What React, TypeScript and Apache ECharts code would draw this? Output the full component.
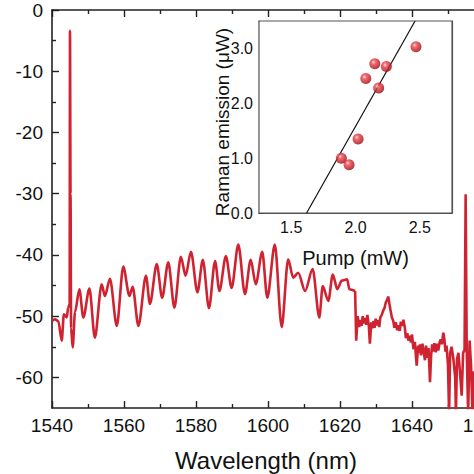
import React, { useEffect, useRef } from "react";
import * as echarts from "echarts";

// Main spectrum: wavelength (nm) and power (dB)
const wavelength = [
  1540.0, 1540.8, 1541.75, 1542.7, 1543.3, 1544.1, 1544.5, 1544.9, 1545.0, 1545.15, 1545.3, 1545.75,
  1546.4, 1547.6, 1548.7, 1550.4, 1551.9, 1553.8, 1554.7, 1556.1, 1558.0, 1559.8, 1561.5, 1562.4,
  1564.0, 1566.1, 1567.2, 1569.1, 1570.6, 1572.3, 1574.0, 1575.8, 1577.1, 1578.6, 1580.4, 1581.9,
  1583.6, 1585.3, 1586.5, 1588.3, 1589.9, 1591.75, 1593.6, 1595.2, 1596.6, 1598.4, 1599.8, 1601.9,
  1603.8, 1605.6, 1607.0, 1608.4, 1610.3, 1612.4, 1614.25, 1615.2, 1616.75, 1618.0, 1619.25, 1620.5,
  1622.0, 1622.6, 1624.2,
  1624.5, 1624.9, 1625.3, 1625.6, 1626.0, 1626.3, 1626.7, 1627.0, 1627.3, 1627.6, 1628.0, 1628.3,
  1628.7, 1629.0, 1629.3, 1629.6, 1629.9, 1630.2, 1630.6, 1630.9, 1631.2, 1631.6, 1632.0, 1632.4,
  1632.7, 1633.1, 1633.4, 1633.7, 1634.0, 1634.4, 1634.8, 1635.1, 1635.5, 1635.9, 1636.2, 1636.6,
  1636.9, 1637.3, 1637.6, 1638.0, 1638.3, 1638.7, 1639.0, 1639.4, 1639.7, 1640.0, 1640.4, 1640.8,
  1641.0, 1641.3, 1641.7, 1642.0, 1642.2, 1642.5, 1642.9, 1643.2, 1643.6, 1643.9, 1644.3, 1644.6,
  1645.0, 1645.3, 1645.6, 1645.9, 1646.2, 1646.6, 1647.0, 1647.3, 1647.7, 1648.0, 1648.3, 1648.7,
  1649.0, 1649.3, 1649.6, 1650.0, 1650.3, 1650.6, 1651.0, 1651.5, 1652.0, 1652.2, 1652.5, 1652.9,
  1653.3, 1653.8, 1654.2, 1654.6, 1654.9, 1655.2, 1655.6, 1656.0, 1656.4, 1656.8, 1657.2, 1657.6,
  1658.0, 1658.5, 1659.0, 1659.5, 1660.0,
];
const power = [
  -50.8, -50.5, -50.8, -54.0, -49.7, -50.2, -48.6, -48.0, -3.4, -30.0, -52.0, -55.1,
  -49.3, -45.6, -50.2, -45.5, -53.5, -44.8, -46.7, -43.9, -51.6, -41.9, -46.7, -45.2,
  -51.6, -43.4, -48.0, -41.5, -47.0, -41.2, -48.6, -40.3, -43.4, -39.5, -46.1, -40.8,
  -48.7, -41.0, -45.9, -40.2, -45.4, -38.3, -46.4, -40.8, -44.8, -39.5, -47.0, -38.3,
  -51.8, -40.7, -43.7, -42.9, -45.9, -42.3, -50.2, -45.1, -47.5, -43.2, -45.6, -44.2,
  -44.0, -45.6, -45.9,
  -54.0, -50.0, -51.8, -50.6, -51.6, -50.0, -51.2, -50.3, -51.4, -49.8, -51.5, -54.5,
  -51.0, -52.0, -50.8, -51.9, -50.4, -51.5, -50.6, -51.8, -50.2, -49.8, -49.1, -48.6,
  -47.8, -47.3, -46.8, -47.9, -48.9, -50.2, -50.8, -51.9, -51.0, -52.3, -51.5, -52.4,
  -50.9, -51.6, -50.6, -51.8, -53.6, -52.8, -54.0, -53.2, -54.3, -53.0, -55.4, -54.2,
  -55.8, -58.1, -54.8, -56.0, -54.6, -56.4, -54.5, -55.6, -57.2, -54.8, -56.8, -55.2,
  -60.8, -56.5, -54.6, -55.8, -54.4, -55.9, -54.5, -55.6, -54.2, -53.8, -54.6, -52.7,
  -53.8, -55.8, -54.8, -58.0, -66.0, -56.0, -55.0, -57.0, -60.0, -66.0, -57.0, -56.0,
  -59.0, -63.0, -56.0, -55.5, -30.1, -55.5, -66.0, -54.0, -58.0, -66.0, -59.0, -63.0,
  -57.0, -66.0, -60.0, -62.0, -60.0,
];
// Wavelength where the smooth fringes end and the noisy tail begins
const noiseStart = 1624.2;

// Main axis ticks
const xTicksMain = [1540, 1560, 1580, 1600, 1620, 1640, 1660];
const yTicksMain = [0, -10, -20, -30, -40, -50, -60];
const yMinorMain = [-5, -15, -25, -35, -45, -55];

// Inset: pump power (mW) vs Raman emission (µW)
const pump = [1.89, 1.95, 2.02, 2.08, 2.15, 2.18, 2.24, 2.47];
const raman = [1.0, 0.88, 1.35, 2.45, 2.72, 2.28, 2.67, 3.03];
const fitPump = [1.62, 2.463];
const fitRaman = [0.0, 3.5];
const xTicksInset = [1.5, 2.0, 2.5];
const xMinorInset = [1.75, 2.25];
const yTicksInset = [0, 1, 2, 3];

const RED = "#cf2331";
const AXIS = "#222";
const FONT = "Liberation Sans, Arial, sans-serif";

export default function App() {
  const ref = useRef<HTMLDivElement>(null);
  useEffect(() => {
    if (!ref.current) return;
    const chart = echarts.init(ref.current, undefined, { renderer: "svg" });
    const spectrum = wavelength.map((w, i) => [w, power[i]]);
    const fringes = spectrum.filter((d) => d[0] <= noiseStart);
    const tail = spectrum.filter((d) => d[0] >= noiseStart);
    const points = pump.map((p, i) => [p, raman[i]]);
    const fit = fitPump.map((p, i) => [p, fitRaman[i]]);

    const mainX = (pos: string, labels: boolean) => ({
      type: "value",
      gridIndex: 0,
      position: pos,
      min: 1540,
      max: 1660,
      interval: 20,
      axisLine: { show: true, onZero: false, lineStyle: { color: AXIS, width: 1.6 } },
      axisTick: { show: true, inside: true, length: 7, lineStyle: { color: AXIS, width: 1.4 } },
      minorTick: { show: true, splitNumber: 2, length: 4, lineStyle: { color: AXIS, width: 1.4 } },
      axisLabel: {
        show: labels,
        fontSize: 19,
        color: "#111",
        fontFamily: FONT,
        margin: 8,
        customValues: xTicksMain,
        formatter: (v: number) => String(v),
      },
      splitLine: { show: false },
      minorSplitLine: { show: false },
    });
    const mainY = (pos: string, labels: boolean, ticks: number[], len: number, line: boolean) => ({
      type: "value",
      gridIndex: 0,
      position: pos,
      min: -65,
      max: 0,
      axisLine: { show: line, onZero: false, lineStyle: { color: AXIS, width: 1.6 } },
      axisTick: { show: true, inside: true, length: len, customValues: ticks, lineStyle: { color: AXIS, width: 1.4 } },
      axisLabel: {
        show: labels,
        fontSize: 19,
        color: "#111",
        fontFamily: FONT,
        margin: 9,
        customValues: yTicksMain,
        formatter: (v: number) => String(v),
      },
      splitLine: { show: false },
    });
    const insetX = (pos: string, labels: boolean, ticks: number[], len: number, name: string) => ({
      type: "value",
      gridIndex: 1,
      position: pos,
      min: 1.25,
      max: 2.75,
      name,
      nameLocation: "middle",
      nameGap: 35,
      nameTextStyle: { fontSize: 20, color: "#111", fontFamily: FONT },
      axisLine: { show: true, onZero: false, lineStyle: { color: "#555", width: 1.2 } },
      axisTick: { show: true, inside: true, length: len, customValues: ticks, lineStyle: { color: "#444", width: 1 } },
      axisLabel: {
        show: labels,
        fontSize: 16,
        color: "#111",
        fontFamily: FONT,
        margin: 6,
        customValues: xTicksInset,
        formatter: (v: number) => v.toFixed(1),
      },
      splitLine: { show: false },
    });
    const insetY = (pos: string, labels: boolean) => ({
      type: "value",
      gridIndex: 1,
      position: pos,
      min: 0,
      max: 3.5,
      interval: 1,
      axisLine: { show: true, onZero: false, lineStyle: { color: "#555", width: 1.2 } },
      axisTick: { show: true, inside: true, length: 5, lineStyle: { color: "#444", width: 1 } },
      minorTick: { show: true, splitNumber: 2, length: 3, lineStyle: { color: "#444", width: 1 } },
      axisLabel: {
        show: labels,
        fontSize: 16,
        color: "#111",
        fontFamily: FONT,
        margin: 6,
        customValues: yTicksInset,
        formatter: (v: number) => v.toFixed(1),
      },
      splitLine: { show: false },
      minorSplitLine: { show: false },
    });

    chart.setOption({
      animation: false,
      backgroundColor: "#fff",
      grid: [
        { left: 52, top: 10, width: 432, height: 398 },
        { left: 259, top: 21, width: 193, height: 192, show: true, backgroundColor: "#fff", borderColor: "#555", borderWidth: 1.2, z: 5 },
      ],
      xAxis: [
        mainX("bottom", true),
        mainX("top", false),
        insetX("bottom", true, xTicksInset, 5, "Pump (mW)"),
        insetX("bottom", false, xMinorInset, 3, ""),
        insetX("top", false, xTicksInset, 5, ""),
      ],
      yAxis: [
        mainY("left", true, yTicksMain, 7, true),
        mainY("left", false, yMinorMain, 4, false),
        mainY("right", false, yTicksMain, 7, true),
        insetY("left", true),
        insetY("right", false),
      ],
      graphic: [
        {
          type: "text",
          x: 266,
          y: 460,
          style: {
            text: "Wavelength (nm)",
            fontSize: 24,
            fontFamily: FONT,
            fill: "#111",
            textAlign: "center",
            textVerticalAlign: "middle",
          },
        },
        {
          type: "text",
          x: 222,
          y: 122,
          rotation: Math.PI / 2,
          style: {
            text: "Raman emission (μW)",
            fontSize: 19,
            fontFamily: FONT,
            fill: "#111",
            textAlign: "center",
            textVerticalAlign: "middle",
          },
        },
      ],
      series: [
        {
          type: "line",
          xAxisIndex: 0,
          yAxisIndex: 0,
          data: fringes,
          showSymbol: false,
          symbol: "none",
          clip: true,
          smooth: 0.3,
          smoothMonotone: "x",
          lineStyle: { color: RED, width: 2.6 },
          z: 2,
        },
        {
          type: "line",
          xAxisIndex: 0,
          yAxisIndex: 0,
          data: tail,
          showSymbol: false,
          symbol: "none",
          clip: true,
          lineStyle: { color: RED, width: 2.6 },
          z: 2,
        },
        {
          type: "line",
          xAxisIndex: 2,
          yAxisIndex: 3,
          data: fit,
          showSymbol: false,
          symbol: "none",
          clip: true,
          lineStyle: { color: "#111", width: 1.2 },
          z: 6,
        },
        {
          type: "scatter",
          xAxisIndex: 2,
          yAxisIndex: 3,
          data: points,
          symbolSize: 11,
          itemStyle: {
            color: new echarts.graphic.RadialGradient(0.38, 0.35, 0.65, [
              { offset: 0, color: "#ffd6d6" },
              { offset: 0.3, color: "#e8454d" },
              { offset: 0.75, color: "#c41a22" },
              { offset: 1, color: "#8c0f14" },
            ]),
          },
          z: 7,
        },
      ],
    });
    return () => chart.dispose();
  }, []);

  return (
    <div
      style={{
        position: "fixed",
        left: 0,
        top: 0,
        width: 474,
        height: 474,
        overflow: "hidden",
        background: "#fff",
      }}
    >
      <div ref={ref} style={{ width: 520, height: 474 }} />
    </div>
  );
}
